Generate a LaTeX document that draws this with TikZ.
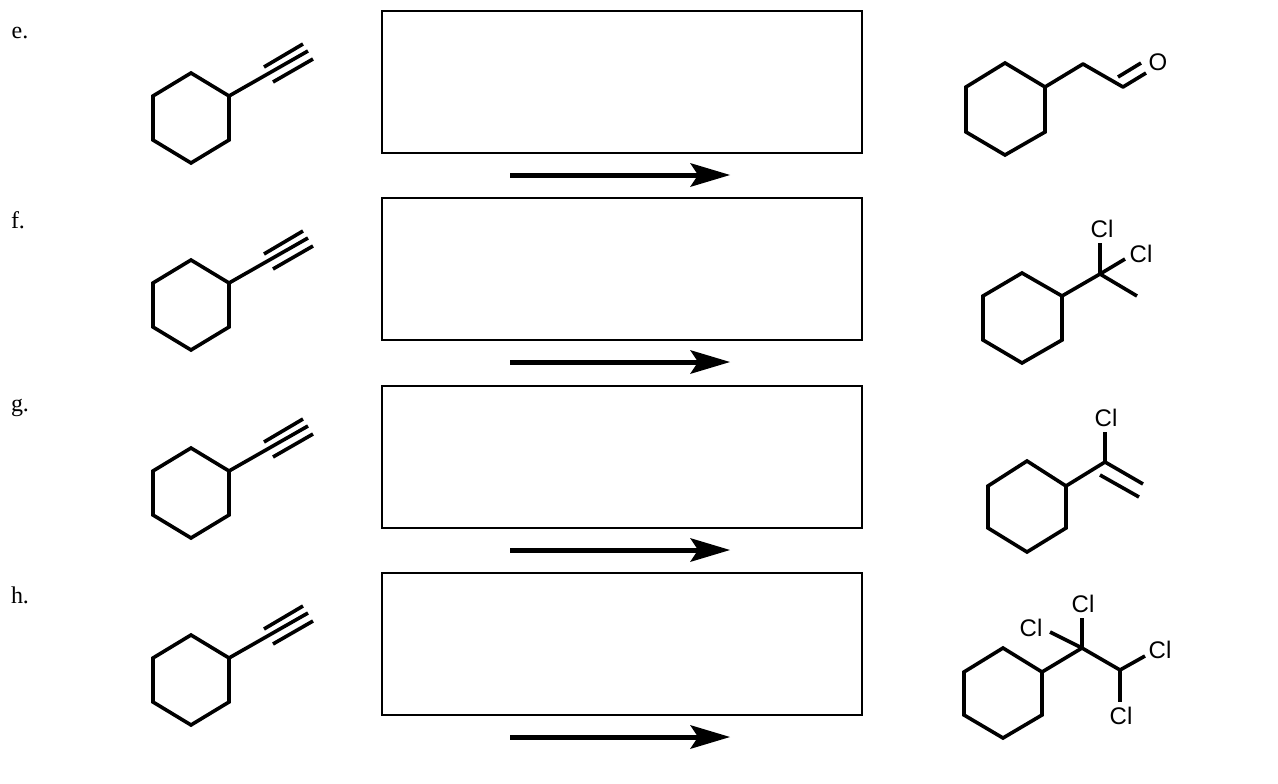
\documentclass[tikz,border=0pt]{standalone}
\usepackage{fontspec}
\setmainfont{Liberation Serif}
\newfontfamily\arial{Liberation Sans}
\tikzset{bond/.style={line width=3.6pt,line cap=butt,line join=miter},
 rxbox/.style={draw,line width=1.2pt},
 lbl/.style={font=\fontsize{24}{24}\selectfont},
 atom/.style={font=\arial\fontsize{24}{24}\selectfont,inner sep=0pt},
 rxarrow/.style={line width=5pt}}
\begin{document}
\begin{tikzpicture}[x=1pt,y=-1pt]
\useasboundingbox (0,0) rectangle (1278,784);
\fill[white] (0,0) rectangle (1278,784);
\foreach \dy/\l/\lx/\n in {0/e./20/e,187/f./18/f,375/g./20/g,562/h./20/h}{
 \begin{scope}[yshift=-\dy pt]
  \node[lbl] (lab\n) at (\lx,33) {\l};
  \draw[bond] (191,73)--(229,96)--(229,140)--(191,163)--(153,140)--(153,96)--cycle;
  \draw[bond] (229,96)--(308,51);
  \draw[bond] (264,67)--(303,44);
  \draw[bond] (273,82)--(313,59);
  \node[rxbox,minimum width=480pt,minimum height=142pt,inner sep=0pt] (box\n) at (622,82) {};
  \coordinate (as\n) at (510,175);
  \coordinate (ae\n) at (730,175);
  \draw[rxarrow] (as\n)--(700,175);
  \fill (ae\n)--(690,163)--(698,175)--(690,187)--cycle;
 \end{scope}}
% e product
\draw[bond] (1005,63)--(1045,87)--(1045,132)--(1005,155)--(966,132)--(966,87)--cycle;
\draw[bond,line join=round] (1045,87)--(1083,64)--(1123,87)--(1146,73);
\draw[bond] (1118,77)--(1141,63);
\node[atom] (O) at (1158,62) {O};
% f product
\draw[bond] (1022,273)--(1062,296)--(1062,340)--(1022,363)--(983,340)--(983,296)--cycle;
\coordinate (Cf) at (1100,274);
\draw[bond] (1062,296)--(Cf)--(1137,296);
\node[atom] (Cl1) at (1102,229) {Cl};
\node[atom] (Cl2) at (1141,254) {Cl};
\draw[bond] (Cf)--(1100,243);
\draw[bond] (Cf)--(1125,259);
% g product
\draw[bond] (1027,461)--(1066,486)--(1066,528)--(1027,552)--(988,528)--(988,486)--cycle;
\coordinate (Cg) at (1105,462);
\draw[bond] (1066,486)--(Cg)--(1143,484);
\draw[bond] (1100,475)--(1139,497);
\node[atom] (Cl3) at (1106,418) {Cl};
\draw[bond] (Cg)--(1105,432);
% h product
\draw[bond] (1003,648)--(1042,672)--(1042,715)--(1003,738)--(964,715)--(964,672)--cycle;
\coordinate (C1) at (1082,648);
\coordinate (C2) at (1120,670);
\draw[bond] (1042,672)--(C1)--(C2);
\node[atom] (Cl4) at (1083,604) {Cl};
\node[atom] (Cl5) at (1031,628) {Cl};
\node[atom] (Cl6) at (1160,650) {Cl};
\node[atom] (Cl7) at (1121,716) {Cl};
\draw[bond] (C1)--(1082,618);
\draw[bond] (C1)--(1050,632);
\draw[bond] (C2)--(1145,656);
\draw[bond] (C2)--(1120,702);
\end{tikzpicture}
\end{document}
